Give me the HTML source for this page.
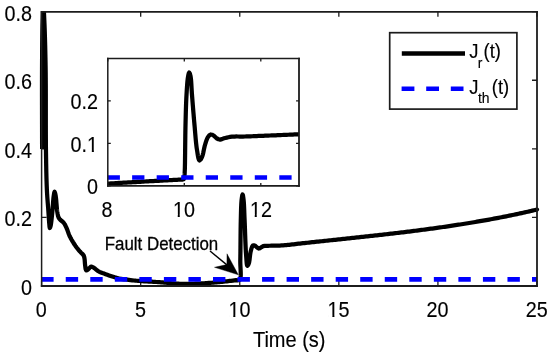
<!DOCTYPE html>
<html><head><meta charset="utf-8"><style>
html,body{margin:0;padding:0;background:#fff;}
svg{display:block;}
text{font-family:'Liberation Sans', Arial, Helvetica, sans-serif;fill:#000;stroke:#000;stroke-width:0.15px;}
</style></head><body>
<svg width="550" height="357" viewBox="0 0 550 357">
<rect x="0" y="0" width="550" height="357" fill="#fff"/>
<defs>
<clipPath id="cm"><rect x="31.60" y="11.10" width="515.40" height="284.20"/></clipPath>
<clipPath id="ci"><rect x="102.80" y="57.90" width="201.25" height="132.40"/></clipPath>
</defs>
<path d="M41.60 285.90V280.90 M41.60 11.70V16.70 M140.68 285.90V280.90 M140.68 11.70V16.70 M239.76 285.90V280.90 M239.76 11.70V16.70 M338.84 285.90V280.90 M338.84 11.70V16.70 M437.92 285.90V280.90 M437.92 11.70V16.70 M537.00 285.90V280.90 M537.00 11.70V16.70 M41.60 285.90H46.60 M537.00 285.90H532.00 M41.60 217.35H46.60 M537.00 217.35H532.00 M41.60 148.80H46.60 M537.00 148.80H532.00 M41.60 80.25H46.60 M537.00 80.25H532.00 M41.60 11.70H46.60 M537.00 11.70H532.00" stroke="#1c1c1c" stroke-width="1.3" fill="none"/>
<g clip-path="url(#cm)">
<path d="M42.10 149.00L42.10 147.48L42.10 145.95L42.10 144.41L42.09 142.87L42.09 141.32L42.09 139.76L42.09 138.20L42.08 136.64L42.08 135.07L42.08 133.50L42.08 131.92L42.07 130.34L42.07 128.76L42.07 127.18L42.06 125.59L42.06 124.00L42.05 122.42L42.05 120.83L42.05 119.24L42.04 117.65L42.04 116.06L42.04 114.48L42.03 112.89L42.03 111.31L42.03 109.73L42.02 108.16L42.02 106.58L42.02 105.01L42.01 103.45L42.01 101.89L42.01 100.33L42.01 98.79L42.01 97.24L42.00 95.71L42.00 94.18L42.00 92.65L42.00 91.14L42.00 89.63L42.00 88.14L42.00 86.65L42.00 85.17L42.00 83.70L42.00 82.24L42.00 80.79L42.01 79.35L42.01 77.93L42.01 76.52L42.02 75.12L42.02 73.73L42.03 72.35L42.03 70.99L42.04 69.65L42.04 68.32L42.05 67.00L42.06 65.27L42.07 63.55L42.08 61.83L42.09 60.11L42.10 58.40L42.11 56.69L42.12 54.99L42.13 53.30L42.15 51.62L42.16 49.96L42.17 48.30L42.19 46.66L42.20 45.04L42.21 43.43L42.23 41.84L42.25 40.27L42.26 38.72L42.28 37.20L42.30 35.70L42.32 34.22L42.34 32.77L42.36 31.34L42.38 29.95L42.41 28.59L42.43 27.25L42.46 25.96L42.48 24.69L42.51 23.46L42.54 22.27L42.57 21.11L42.60 20.00L42.66 18.03L42.72 15.99L42.78 13.94L42.85 11.96L42.91 10.10L42.98 8.44L43.06 7.03L43.14 5.95L43.22 5.25L43.30 5.00L43.39 5.25L43.48 5.95L43.58 7.03L43.69 8.44L43.79 10.10L43.90 11.96L44.00 13.94L44.11 15.98L44.21 18.03L44.30 20.00L44.35 21.11L44.40 22.27L44.45 23.46L44.50 24.69L44.55 25.95L44.60 27.25L44.65 28.58L44.70 29.94L44.75 31.34L44.80 32.76L44.84 34.21L44.89 35.68L44.93 37.18L44.98 38.71L45.02 40.25L45.06 41.82L45.11 43.41L45.15 45.02L45.19 46.64L45.23 48.28L45.27 49.93L45.31 51.60L45.34 53.28L45.38 54.97L45.41 56.67L45.45 58.38L45.48 60.10L45.51 61.82L45.54 63.54L45.57 65.27L45.60 67.00L45.62 68.31L45.64 69.64L45.66 71.00L45.67 72.38L45.69 73.78L45.70 75.20L45.71 76.64L45.72 78.10L45.73 79.58L45.74 81.07L45.75 82.58L45.76 84.10L45.77 85.64L45.77 87.19L45.78 88.76L45.78 90.33L45.78 91.91L45.79 93.51L45.79 95.11L45.79 96.72L45.79 98.33L45.80 99.95L45.80 101.57L45.80 103.20L45.80 104.83L45.80 106.46L45.80 108.09L45.80 109.72L45.80 111.35L45.80 112.98L45.80 114.60L45.80 116.22L45.80 117.83L45.80 119.44L45.80 121.04L45.80 122.63L45.80 124.21L45.81 125.78L45.81 127.34L45.81 128.89L45.81 130.43L45.82 131.95L45.82 133.45L45.83 134.94L45.83 136.42L45.84 137.87L45.85 139.31L45.86 140.72L45.87 142.12L45.88 143.49L45.89 144.84L45.90 146.17L45.92 147.47L45.93 148.75L45.95 150.00L45.98 151.81L46.00 153.59L46.03 155.35L46.05 157.09L46.08 158.80L46.11 160.50L46.13 162.17L46.16 163.82L46.19 165.45L46.22 167.06L46.25 168.65L46.28 170.22L46.31 171.76L46.35 173.29L46.38 174.79L46.42 176.27L46.46 177.74L46.50 179.18L46.54 180.60L46.59 182.00L46.63 183.39L46.68 184.75L46.73 186.09L46.79 187.41L46.84 188.72L46.90 190.00L46.99 191.77L47.08 193.49L47.19 195.16L47.29 196.78L47.40 198.36L47.52 199.90L47.63 201.40L47.75 202.88L47.87 204.33L47.98 205.77L48.09 207.19L48.20 208.60L48.30 210.00L48.42 211.71L48.53 213.44L48.65 215.17L48.76 216.86L48.87 218.50L48.98 220.06L49.09 221.51L49.19 222.83L49.30 224.00L49.51 226.64L49.80 228.00L50.18 227.38L50.60 226.00L50.81 225.01L51.02 223.77L51.22 222.32L51.41 220.71L51.60 218.99L51.78 217.21L51.96 215.42L52.13 213.67L52.30 212.00L52.46 210.40L52.60 208.70L52.74 206.95L52.87 205.18L53.00 203.42L53.13 201.70L53.26 200.07L53.40 198.55L53.54 197.18L53.70 196.00L54.13 193.20L54.60 191.80L55.15 193.20L55.70 196.00L55.88 197.22L56.05 198.67L56.21 200.30L56.35 202.05L56.50 203.88L56.64 205.71L56.79 207.49L56.94 209.17L57.11 210.69L57.30 212.00L57.66 214.14L58.05 215.96L58.60 217.50L59.45 218.85L60.50 220.00L62.03 221.22L63.60 222.60L64.61 224.08L65.51 225.80L66.40 227.70L66.98 229.06L67.54 230.54L68.10 232.10L68.68 233.69L69.31 235.27L70.00 236.80L70.69 238.14L71.44 239.50L72.24 240.85L73.05 242.19L73.88 243.49L74.70 244.73L75.50 245.90L76.63 247.47L77.77 248.94L78.90 250.31L80.00 251.60L81.32 252.93L82.61 254.16L83.60 255.40L84.18 256.87L84.50 258.50L84.69 259.97L84.81 261.64L84.92 263.37L85.10 265.00L85.34 267.12L85.64 269.17L86.20 270.30L87.03 270.15L88.00 269.50L89.46 267.97L90.90 266.70L91.70 266.70L92.50 267.00L93.72 267.68L95.00 268.60L96.48 269.81L98.00 271.00L99.48 271.82L101.00 272.50L102.45 273.06L104.00 273.60L105.57 274.18L107.28 274.80L109.00 275.40L110.65 275.95L112.30 276.48L114.00 277.00L115.40 277.42L116.80 277.83L118.30 278.22L120.00 278.60L121.27 278.84L122.64 279.07L124.08 279.30L125.60 279.52L127.19 279.73L128.83 279.93L130.52 280.13L132.24 280.32L134.00 280.50L135.32 280.63L136.69 280.75L138.09 280.86L139.53 280.97L141.00 281.07L142.50 281.17L144.02 281.26L145.56 281.35L147.12 281.44L148.68 281.53L150.25 281.62L151.81 281.71L153.38 281.80L154.93 281.90L156.47 282.00L158.00 282.10L159.55 282.21L161.10 282.34L162.66 282.46L164.23 282.60L165.79 282.74L167.36 282.88L168.93 283.02L170.50 283.15L172.07 283.29L173.64 283.41L175.21 283.53L176.77 283.63L178.34 283.72L179.89 283.80L181.45 283.86L183.00 283.90L184.52 283.92L186.06 283.93L187.61 283.92L189.16 283.90L190.72 283.87L192.28 283.83L193.84 283.78L195.38 283.72L196.92 283.65L198.43 283.58L199.93 283.50L201.41 283.43L202.86 283.34L204.27 283.26L205.66 283.18L207.00 283.10L208.66 282.99L210.29 282.88L211.88 282.75L213.44 282.62L214.96 282.49L216.45 282.35L217.89 282.21L219.30 282.07L220.67 281.93L222.00 281.80L223.66 281.63L225.27 281.46L226.81 281.29L228.28 281.12L229.68 280.95L231.00 280.80L232.80 280.59L234.44 280.38L236.00 280.20L238.01 280.30L239.70 279.80L240.11 279.16L240.40 278.27L240.60 277.17L240.71 275.88L240.75 274.42L240.73 272.82L240.67 271.11L240.59 269.32L240.49 267.46L240.40 265.58L240.33 263.69L240.29 261.82L240.30 260.00L240.33 258.70L240.35 257.34L240.37 255.93L240.39 254.48L240.41 252.98L240.43 251.44L240.44 249.87L240.46 248.27L240.47 246.65L240.49 245.00L240.50 243.35L240.52 241.68L240.53 240.01L240.54 238.34L240.56 236.68L240.57 235.02L240.59 233.38L240.61 231.75L240.62 230.15L240.64 228.58L240.66 227.04L240.69 225.54L240.71 224.08L240.74 222.66L240.77 221.30L240.80 220.00L240.85 218.20L240.89 216.42L240.93 214.66L240.97 212.93L241.02 211.24L241.06 209.59L241.11 208.00L241.17 206.47L241.24 205.00L241.31 203.62L241.39 202.32L241.49 201.11L241.60 200.00L241.90 197.50L242.25 195.39L242.60 194.50L242.95 195.39L243.29 197.50L243.60 200.00L243.71 201.11L243.82 202.33L243.91 203.64L243.99 205.05L244.06 206.53L244.13 208.07L244.20 209.68L244.26 211.33L244.32 213.02L244.39 214.75L244.45 216.49L244.52 218.24L244.60 220.00L244.66 221.35L244.72 222.76L244.78 224.23L244.84 225.76L244.89 227.33L244.95 228.94L245.01 230.58L245.06 232.25L245.12 233.92L245.18 235.61L245.24 237.30L245.30 238.99L245.36 240.66L245.43 242.30L245.49 243.93L245.56 245.51L245.63 247.05L245.70 248.55L245.77 249.98L245.85 251.35L245.93 252.65L246.01 253.87L246.10 255.00L246.25 257.05L246.39 259.14L246.53 261.15L246.68 262.94L246.87 264.40L247.11 265.39L247.40 265.80L248.09 265.11L248.80 263.50L249.11 262.39L249.36 260.98L249.59 259.34L249.79 257.57L250.00 255.77L250.23 254.01L250.49 252.39L250.80 251.00L251.28 249.21L251.79 247.48L252.38 246.08L253.10 245.30L254.25 245.37L255.50 246.00L257.04 247.46L258.70 248.60L260.11 248.14L261.63 247.06L263.20 246.20L264.74 245.91L266.32 245.84L268.00 245.80L269.63 245.75L271.34 245.74L273.13 245.73L275.00 245.70L276.54 245.65L278.13 245.60L279.76 245.53L281.45 245.45L283.20 245.35L285.00 245.22L286.37 245.10L287.77 244.97L289.21 244.81L290.68 244.65L292.18 244.47L293.70 244.29L295.25 244.10L296.81 243.91L298.40 243.73L300.00 243.55L301.44 243.39L302.92 243.23L304.42 243.07L305.94 242.90L307.48 242.74L309.04 242.57L310.60 242.40L312.18 242.23L313.75 242.07L315.33 241.90L316.89 241.73L318.45 241.56L320.00 241.40L321.54 241.24L323.08 241.07L324.62 240.91L326.15 240.75L327.69 240.59L329.23 240.43L330.77 240.26L332.31 240.10L333.85 239.94L335.38 239.78L336.92 239.62L338.46 239.45L340.00 239.29L341.54 239.13L343.08 238.96L344.62 238.80L346.15 238.64L347.69 238.47L349.23 238.31L350.77 238.14L352.31 237.98L353.85 237.81L355.38 237.65L356.92 237.48L358.46 237.32L360.00 237.15L361.54 236.98L363.08 236.82L364.62 236.65L366.15 236.48L367.69 236.32L369.23 236.15L370.77 235.98L372.31 235.81L373.85 235.64L375.39 235.48L376.92 235.30L378.46 235.13L380.00 234.96L381.54 234.79L383.08 234.61L384.62 234.44L386.15 234.26L387.69 234.08L389.23 233.91L390.77 233.73L392.31 233.55L393.85 233.37L395.39 233.19L396.92 233.01L398.46 232.82L400.00 232.64L401.54 232.46L403.08 232.27L404.62 232.08L406.16 231.90L407.69 231.71L409.23 231.52L410.77 231.33L412.31 231.14L413.85 230.95L415.39 230.75L416.92 230.56L418.46 230.36L420.00 230.16L421.54 229.96L423.08 229.76L424.62 229.56L426.16 229.35L427.69 229.15L429.23 228.94L430.77 228.73L432.31 228.52L433.85 228.31L435.39 228.10L436.92 227.88L438.46 227.67L440.00 227.45L441.54 227.23L443.08 227.01L444.62 226.79L446.16 226.57L447.69 226.34L449.23 226.11L450.77 225.89L452.31 225.66L453.85 225.43L455.39 225.19L456.92 224.96L458.46 224.72L460.00 224.48L461.54 224.24L463.08 224.00L464.62 223.75L466.16 223.50L467.70 223.25L469.23 223.00L470.77 222.75L472.31 222.50L473.85 222.24L475.39 221.98L476.93 221.72L478.46 221.46L480.00 221.19L481.54 220.92L483.08 220.65L484.62 220.38L486.16 220.10L487.70 219.82L489.24 219.54L490.77 219.26L492.31 218.98L493.85 218.69L495.39 218.40L496.93 218.11L498.46 217.82L500.00 217.52L501.54 217.22L503.10 216.92L504.65 216.61L506.21 216.30L507.77 215.98L509.33 215.67L510.88 215.35L512.43 215.03L513.97 214.71L515.50 214.40L517.02 214.08L518.52 213.76L520.00 213.44L521.60 213.09L523.18 212.75L524.74 212.40L526.29 212.05L527.82 211.70L529.35 211.35L530.88 211.00L532.40 210.65L533.93 210.30L535.46 209.95L537.00 209.60" stroke="#000" stroke-width="4.25" fill="none" stroke-linejoin="round" stroke-linecap="butt"/>
<line x1="41.20" y1="279.4" x2="537.00" y2="279.4" stroke="#0000ff" stroke-width="4.6" stroke-dasharray="12.4 12.14"/>
</g>
<circle cx="537.00" cy="209.60" r="2.1" fill="#000"/>
<line x1="41.60" y1="10.95" x2="41.60" y2="286.90" stroke="#1c1c1c" stroke-width="1.50"/>
<line x1="537.00" y1="10.95" x2="537.00" y2="286.90" stroke="#1c1c1c" stroke-width="1.80"/>
<line x1="40.85" y1="11.85" x2="537.90" y2="11.85" stroke="#1c1c1c" stroke-width="1.80"/>
<line x1="40.85" y1="286.00" x2="537.90" y2="286.00" stroke="#1c1c1c" stroke-width="1.80"/>
<text transform="translate(32.00 294.90) scale(0.920 1)" font-size="21.50" text-anchor="end">0</text>
<text transform="translate(32.00 226.35) scale(0.920 1)" font-size="21.50" text-anchor="end">0.2</text>
<text transform="translate(32.00 157.80) scale(0.920 1)" font-size="21.50" text-anchor="end">0.4</text>
<text transform="translate(32.00 89.25) scale(0.920 1)" font-size="21.50" text-anchor="end">0.6</text>
<text transform="translate(32.00 20.70) scale(0.920 1)" font-size="21.50" text-anchor="end">0.8</text>
<text transform="translate(41.30 317.00) scale(0.920 1)" font-size="21.50" text-anchor="middle">0</text>
<text transform="translate(140.38 317.00) scale(0.920 1)" font-size="21.50" text-anchor="middle">5</text>
<text transform="translate(239.46 317.00) scale(0.920 1)" font-size="21.50" text-anchor="middle">10</text>
<rect x="229.27" y="314.94" width="4.02" height="2.46" fill="#fff"/>
<rect x="235.33" y="314.94" width="4.01" height="2.46" fill="#fff"/>
<text transform="translate(338.54 317.00) scale(0.920 1)" font-size="21.50" text-anchor="middle">15</text>
<rect x="328.35" y="314.94" width="4.02" height="2.46" fill="#fff"/>
<rect x="334.41" y="314.94" width="4.01" height="2.46" fill="#fff"/>
<text transform="translate(437.62 317.00) scale(0.920 1)" font-size="21.50" text-anchor="middle">20</text>
<text transform="translate(536.70 317.00) scale(0.920 1)" font-size="21.50" text-anchor="middle">25</text>
<text transform="translate(289.2 347.0) scale(0.91 1)" font-size="22" text-anchor="middle">Time (s)</text>
<text transform="translate(104.8 249.6) scale(0.922 1)" font-size="18.3" style="stroke-width:0.3px">Fault Detection</text>
<line x1="210" y1="251.0" x2="229" y2="266.6" stroke="#000" stroke-width="1.4"/>
<path d="M238.3 274.8 L227.0 253.8 L226.9 264.6 L214.5 267.3 Z" fill="#000" stroke="#000" stroke-width="0.4" stroke-linejoin="miter"/>
<rect x="107.80" y="58.50" width="191.25" height="127.40" fill="#fff"/>
<path d="M107.80 185.90V182.90 M107.80 58.50V61.50 M184.30 185.90V182.90 M184.30 58.50V61.50 M260.80 185.90V182.90 M260.80 58.50V61.50 M107.80 185.90H110.80 M299.05 185.90H296.05 M107.80 143.43H110.80 M299.05 143.43H296.05 M107.80 100.97H110.80 M299.05 100.97H296.05" stroke="#1c1c1c" stroke-width="1.3" fill="none"/>
<g clip-path="url(#ci)">
<path d="M107.80 183.60L109.35 183.51L110.90 183.42L112.46 183.34L114.01 183.25L115.57 183.16L117.13 183.07L118.68 182.98L120.24 182.89L121.80 182.81L123.36 182.72L124.91 182.63L126.47 182.54L128.03 182.45L129.58 182.36L131.13 182.28L132.68 182.19L134.23 182.10L135.78 182.01L137.32 181.93L138.87 181.84L140.40 181.76L141.94 181.67L143.47 181.58L145.00 181.50L146.58 181.41L148.21 181.32L149.88 181.23L151.60 181.14L153.35 181.05L155.11 180.96L156.89 180.86L158.67 180.77L160.45 180.68L162.22 180.59L163.96 180.50L165.67 180.41L167.34 180.32L168.96 180.23L170.53 180.15L172.03 180.07L173.46 179.99L174.81 179.91L176.06 179.84L177.22 179.77L178.27 179.71L179.20 179.65L180.00 179.60L182.21 179.64L183.60 179.30L184.19 177.90L184.40 176.00L184.56 174.76L184.65 173.46L184.72 171.94L184.80 170.00L184.83 169.15L184.86 168.20L184.89 167.15L184.92 166.03L184.94 164.82L184.97 163.53L184.99 162.18L185.01 160.76L185.03 159.29L185.05 157.76L185.07 156.19L185.09 154.58L185.11 152.93L185.13 151.25L185.15 149.55L185.17 147.83L185.19 146.09L185.21 144.35L185.23 142.61L185.25 140.88L185.27 139.15L185.29 137.44L185.31 135.75L185.33 134.09L185.36 132.46L185.38 130.87L185.41 129.32L185.44 127.82L185.47 126.38L185.50 125.00L185.54 123.35L185.58 121.72L185.62 120.10L185.66 118.49L185.70 116.89L185.74 115.31L185.78 113.75L185.82 112.20L185.87 110.66L185.91 109.14L185.96 107.64L186.01 106.16L186.06 104.69L186.11 103.25L186.17 101.82L186.23 100.41L186.29 99.03L186.36 97.66L186.43 96.32L186.50 95.00L186.60 93.30L186.70 91.59L186.80 89.89L186.91 88.21L187.02 86.56L187.14 84.95L187.26 83.41L187.39 81.93L187.53 80.54L187.68 79.25L187.83 78.06L188.00 77.00L188.37 74.94L188.77 73.23L189.20 72.50L189.86 73.62L190.50 76.00L190.69 77.03L190.86 78.23L191.00 79.57L191.13 81.03L191.24 82.61L191.35 84.27L191.45 86.00L191.54 87.78L191.64 89.59L191.75 91.41L191.87 93.22L192.00 95.00L192.11 96.35L192.22 97.74L192.34 99.16L192.45 100.61L192.57 102.09L192.69 103.59L192.81 105.11L192.94 106.64L193.06 108.19L193.19 109.75L193.32 111.31L193.45 112.87L193.58 114.43L193.71 115.99L193.84 117.53L193.97 119.07L194.11 120.58L194.24 122.08L194.37 123.55L194.50 125.00L194.65 126.65L194.79 128.31L194.93 129.98L195.07 131.67L195.21 133.35L195.35 135.02L195.49 136.68L195.64 138.32L195.79 139.94L195.94 141.52L196.09 143.07L196.26 144.57L196.43 146.02L196.61 147.41L196.80 148.74L197.00 150.00L197.31 151.92L197.61 153.91L197.93 155.86L198.27 157.62L198.64 159.07L199.04 160.07L199.50 160.50L200.74 159.41L202.00 157.00L202.45 155.85L202.84 154.48L203.21 152.94L203.56 151.31L203.89 149.65L204.24 148.00L204.60 146.43L205.00 145.00L205.55 143.20L206.10 141.43L206.68 139.75L207.31 138.25L208.00 137.00L209.29 135.38L210.70 134.50L212.08 134.73L213.50 135.50L214.66 136.42L215.82 137.56L217.00 138.50L218.52 139.27L220.10 139.60L221.93 139.11L224.00 138.30L225.36 137.94L226.85 137.58L228.45 137.24L230.14 136.93L231.90 136.70L233.35 136.58L234.84 136.52L236.38 136.49L237.98 136.50L239.63 136.52L241.35 136.53L243.14 136.53L245.00 136.50L246.34 136.46L247.73 136.42L249.17 136.37L250.64 136.31L252.16 136.25L253.71 136.19L255.28 136.13L256.88 136.06L258.50 135.99L260.14 135.92L261.78 135.85L263.43 135.78L265.08 135.71L266.73 135.64L268.37 135.57L270.00 135.50L271.48 135.44L272.97 135.38L274.46 135.32L275.97 135.26L277.49 135.19L279.01 135.13L280.54 135.07L282.08 135.00L283.62 134.94L285.16 134.88L286.71 134.81L288.25 134.75L289.80 134.68L291.35 134.62L292.90 134.55L294.44 134.49L295.98 134.43L297.52 134.36L299.05 134.30" stroke="#000" stroke-width="4.25" fill="none" stroke-linejoin="round" stroke-linecap="butt"/>
<line x1="107.60" y1="177.5" x2="299.05" y2="177.5" stroke="#0000ff" stroke-width="4.6" stroke-dasharray="12.3 12.23"/>
</g>
<line x1="107.80" y1="57.75" x2="107.80" y2="186.70" stroke="#1c1c1c" stroke-width="1.50"/>
<line x1="299.00" y1="57.75" x2="299.00" y2="186.70" stroke="#1c1c1c" stroke-width="1.80"/>
<line x1="107.05" y1="58.50" x2="299.90" y2="58.50" stroke="#1c1c1c" stroke-width="1.50"/>
<line x1="107.05" y1="185.80" x2="299.90" y2="185.80" stroke="#1c1c1c" stroke-width="1.80"/>
<text transform="translate(98.00 194.40) scale(0.920 1)" font-size="21.50" text-anchor="end">0</text>
<text transform="translate(98.00 151.93) scale(0.920 1)" font-size="21.50" text-anchor="end">0.1</text>
<rect x="87.81" y="149.88" width="4.02" height="2.46" fill="#fff"/>
<rect x="93.87" y="149.88" width="4.01" height="2.46" fill="#fff"/>
<text transform="translate(98.00 109.47) scale(0.920 1)" font-size="21.50" text-anchor="end">0.2</text>
<text transform="translate(107.00 216.60) scale(0.920 1)" font-size="21.50" text-anchor="middle">8</text>
<text transform="translate(183.90 216.60) scale(0.920 1)" font-size="21.50" text-anchor="middle">10</text>
<rect x="173.71" y="214.54" width="4.02" height="2.46" fill="#fff"/>
<rect x="179.77" y="214.54" width="4.01" height="2.46" fill="#fff"/>
<text transform="translate(260.90 216.60) scale(0.920 1)" font-size="21.50" text-anchor="middle">12</text>
<rect x="250.71" y="214.54" width="4.02" height="2.46" fill="#fff"/>
<rect x="256.77" y="214.54" width="4.01" height="2.46" fill="#fff"/>
<rect x="389.7" y="32.7" width="127.2" height="76.4" fill="#fff" stroke="#1c1c1c" stroke-width="1.7"/>
<line x1="401.8" y1="53.5" x2="465.0" y2="53.5" stroke="#000" stroke-width="4.5"/>
<line x1="401.6" y1="88.8" x2="463.5" y2="88.8" stroke="#0000ff" stroke-width="4.6" stroke-dasharray="12.8 11.8"/>
<text transform="translate(469.20 58.20) scale(0.93 1)" font-size="19.8">J</text>
<text transform="translate(477.80 67.60) scale(0.93 1)" font-size="15.0">r</text>
<text transform="translate(483.60 58.40) scale(0.93 1)" font-size="19.8">(t)</text>
<text transform="translate(469.20 94.20) scale(0.93 1)" font-size="19.8">J</text>
<text transform="translate(478.00 103.00) scale(0.93 1)" font-size="15.0">th</text>
<text transform="translate(491.80 94.40) scale(0.93 1)" font-size="19.8">(t)</text>
</svg>
</body></html>
